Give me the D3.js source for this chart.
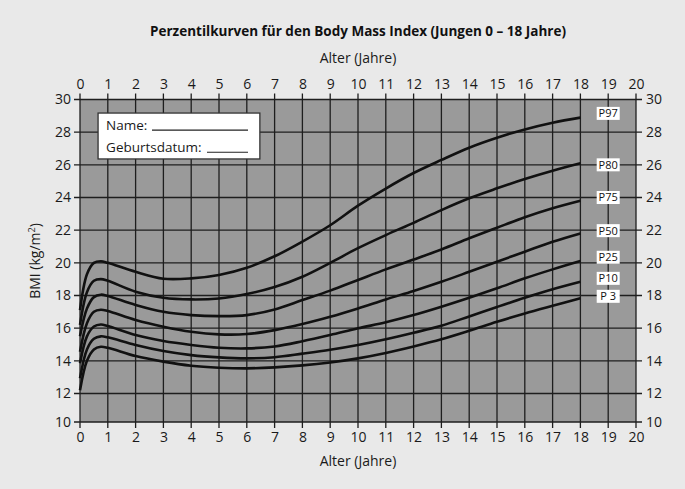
<!DOCTYPE html>
<html>
<head>
<meta charset="utf-8">
<script src="https://cdn.jsdelivr.net/npm/d3@7"></script>
<style>
  body { margin: 0; background: #e9e9e9; }
  svg { display: block; font-family: "Open Sans", sans-serif; }
</style>
</head>
<body>
<script>
// Alter (Jahre) der Stützstellen
const ages = [0, 0.25, 0.5, 0.75, 1, 2, 3, 4, 5, 6, 7, 8, 9, 10, 11, 12, 13, 14, 15, 16, 17, 18]

const p97 = [17.1, 19.3, 20.0, 20.1, 20.0, 19.45, 19.03, 19.05, 19.26, 19.7, 20.4, 21.3, 22.3, 23.5, 24.55, 25.5, 26.3, 27.05, 27.66, 28.17, 28.58, 28.89]
const p90 = [16.2, 18.2, 18.9, 19.0, 18.9, 18.23, 17.86, 17.76, 17.82, 18.09, 18.52, 19.15, 20.0, 20.9, 21.7, 22.45, 23.23, 23.95, 24.56, 25.13, 25.64, 26.09]
const p75 = [15.5, 17.2, 17.9, 18.05, 17.97, 17.42, 17.0, 16.8, 16.74, 16.8, 17.15, 17.72, 18.3, 18.95, 19.6, 20.2, 20.82, 21.5, 22.15, 22.79, 23.34, 23.8]
const p50 = [14.56, 16.3, 17.0, 17.13, 17.05, 16.5, 16.09, 15.78, 15.62, 15.64, 15.88, 16.25, 16.7, 17.21, 17.76, 18.28, 18.84, 19.45, 20.07, 20.68, 21.29, 21.8]
const p25 = [13.85, 15.5, 16.1, 16.22, 16.13, 15.58, 15.21, 14.97, 14.8, 14.76, 14.88, 15.2, 15.58, 15.99, 16.36, 16.8, 17.31, 17.86, 18.44, 19.05, 19.6, 20.11]
const p10 = [12.93, 14.7, 15.35, 15.5, 15.44, 14.97, 14.6, 14.35, 14.21, 14.15, 14.22, 14.44, 14.68, 14.97, 15.32, 15.72, 16.15, 16.72, 17.3, 17.86, 18.38, 18.84]
const p3 = [12.2, 14.0, 14.7, 14.86, 14.8, 14.29, 13.95, 13.7, 13.58, 13.54, 13.6, 13.72, 13.9, 14.15, 14.48, 14.88, 15.32, 15.84, 16.39, 16.9, 17.37, 17.83]

const series = [p97, p90, p75, p50, p25, p10, p3]

// Beschriftung rechts (bei 19 Jahren)
const labels = ["P97", "P80", "P75", "P50", "P25", "P10", "P 3"]
const labelValues = [29.15, 26.0, 24.0, 21.97, 20.34, 19.05, 17.95]
const labelAge = 19

const xTicks = d3.range(0, 21)
const yTicks = [10, 12, 14, 16, 18, 20, 22, 24, 26, 28, 30]

const width = 685
const height = 489

const x = d3.scaleLinear().domain([0, 20]).range([80, 636])
// the bottom row (10-12) is a bit shorter in the original
const y = d3.scaleLinear().domain([10, 12, 30]).range([422, 393.5, 99.5])

const svg = d3.select("body").append("svg")
    .attr("width", width)
    .attr("height", height)

svg.append("rect")
    .attr("width", width)
    .attr("height", height)
    .attr("fill", "#e9e9e9")

svg.append("rect")
    .attr("x", x(0))
    .attr("y", y(30))
    .attr("width", x(20) - x(0))
    .attr("height", y(10) - y(30))
    .attr("fill", "#9a9a9a")

// grid
const grid = svg.append("g")
    .attr("stroke", "#1e1e1e")
    .attr("stroke-width", 1.3)

grid.selectAll(".v").data(xTicks).join("line")
    .attr("x1", d => x(d)).attr("x2", d => x(d))
    .attr("y1", y(30) - 6).attr("y2", y(10) + 6)

grid.selectAll(".h").data(yTicks).join("line")
    .attr("y1", d => y(d)).attr("y2", d => y(d))
    .attr("x1", x(0) - 6).attr("x2", x(20) + 6)

// axes (labels only, lines come from the grid)
const tickFont = g => g.call(g => g.select(".domain").remove())
    .call(g => g.selectAll(".tick line").remove())
    .call(g => g.selectAll("text").attr("fill", "#1a1a1a").style("font-size", "14px").style("font-family", "'Open Sans', sans-serif"))

svg.append("g")
    .attr("transform", `translate(0,${y(30) - 6})`)
    .call(d3.axisTop(x).tickValues(xTicks).tickFormat(d3.format("d")).tickSize(0).tickPadding(5))
    .call(tickFont)

svg.append("g")
    .attr("transform", `translate(0,${y(10) + 6})`)
    .call(d3.axisBottom(x).tickValues(xTicks).tickFormat(d3.format("d")).tickSize(0).tickPadding(4))
    .call(tickFont)

svg.append("g")
    .attr("transform", `translate(${x(0) - 6},0)`)
    .call(d3.axisLeft(y).tickValues(yTicks).tickFormat(d3.format("d")).tickSize(0).tickPadding(3))
    .call(tickFont)

svg.append("g")
    .attr("transform", `translate(${x(20) + 6},0)`)
    .call(d3.axisRight(y).tickValues(yTicks).tickFormat(d3.format("d")).tickSize(0).tickPadding(4))
    .call(tickFont)

// curves
const line = d3.line()
    .x((d, i) => x(ages[i]))
    .y(d => y(d))
    .curve(d3.curveCatmullRom.alpha(0.5))

svg.append("g")
    .selectAll("path")
    .data(series)
    .join("path")
    .attr("d", line)
    .attr("fill", "none")
    .attr("stroke", "#111")
    .attr("stroke-width", 2.6)

// percentile labels
const lab = svg.append("g")
    .selectAll("g")
    .data(labels)
    .join("g")
    .attr("transform", (d, i) => `translate(${x(labelAge)},${y(labelValues[i])})`)

lab.append("rect")
    .attr("x", -11.5)
    .attr("y", -6.5)
    .attr("width", 23)
    .attr("height", 13)
    .attr("fill", "#fff")

lab.append("text")
    .attr("text-anchor", "middle")
    .attr("dy", "0.36em")
    .style("font-size", "11px")
    .attr("fill", "#111")
    .text(d => d)

// Name / Geburtsdatum box
const box = svg.append("g")
box.append("rect")
    .attr("x", x(0.65))
    .attr("y", y(29.17))
    .attr("width", x(6.47) - x(0.65))
    .attr("height", y(26.36) - y(29.17))
    .attr("fill", "#fff")
    .attr("stroke", "#333")
    .attr("stroke-width", 1.3)

box.append("text")
    .attr("x", x(0.65) + 8)
    .attr("y", y(28.15))
    .style("font-size", "13.5px")
    .attr("fill", "#1a1a1a")
    .text("Name:")
box.append("line")
    .attr("x1", 152).attr("x2", 248)
    .attr("y1", y(28.15) + 0.5).attr("y2", y(28.15) + 0.5)
    .attr("stroke", "#222").attr("stroke-width", 1.2)

box.append("text")
    .attr("x", x(0.65) + 8)
    .attr("y", y(26.8))
    .style("font-size", "13.5px")
    .attr("fill", "#1a1a1a")
    .text("Geburtsdatum:")
box.append("line")
    .attr("x1", 207).attr("x2", 248)
    .attr("y1", y(26.8) + 0.5).attr("y2", y(26.8) + 0.5)
    .attr("stroke", "#222").attr("stroke-width", 1.2)

// titles
svg.append("text")
    .attr("x", 358)
    .attr("y", 36)
    .attr("text-anchor", "middle")
    .attr("textLength", 416)
    .attr("lengthAdjust", "spacingAndGlyphs")
    .style("font-size", "14px")
    .style("font-weight", "bold")
    .attr("fill", "#111")
    .text("Perzentilkurven für den Body Mass Index (Jungen 0 – 18 Jahre)")

svg.append("text")
    .attr("x", 358)
    .attr("y", 63)
    .attr("text-anchor", "middle")
    .style("font-size", "14px")
    .attr("fill", "#1a1a1a")
    .text("Alter (Jahre)")

svg.append("text")
    .attr("x", 358)
    .attr("y", 466)
    .attr("text-anchor", "middle")
    .style("font-size", "14px")
    .attr("fill", "#1a1a1a")
    .text("Alter (Jahre)")

const yl = svg.append("text")
    .attr("transform", `translate(40,${261}) rotate(-90)`)
    .attr("text-anchor", "middle")
    .style("font-size", "14px")
    .attr("fill", "#1a1a1a")
yl.append("tspan").text("BMI (kg/m")
yl.append("tspan").attr("dy", -5).style("font-size", "9px").text("2")
yl.append("tspan").attr("dy", 5).text(")")
</script>
</body>
</html>
